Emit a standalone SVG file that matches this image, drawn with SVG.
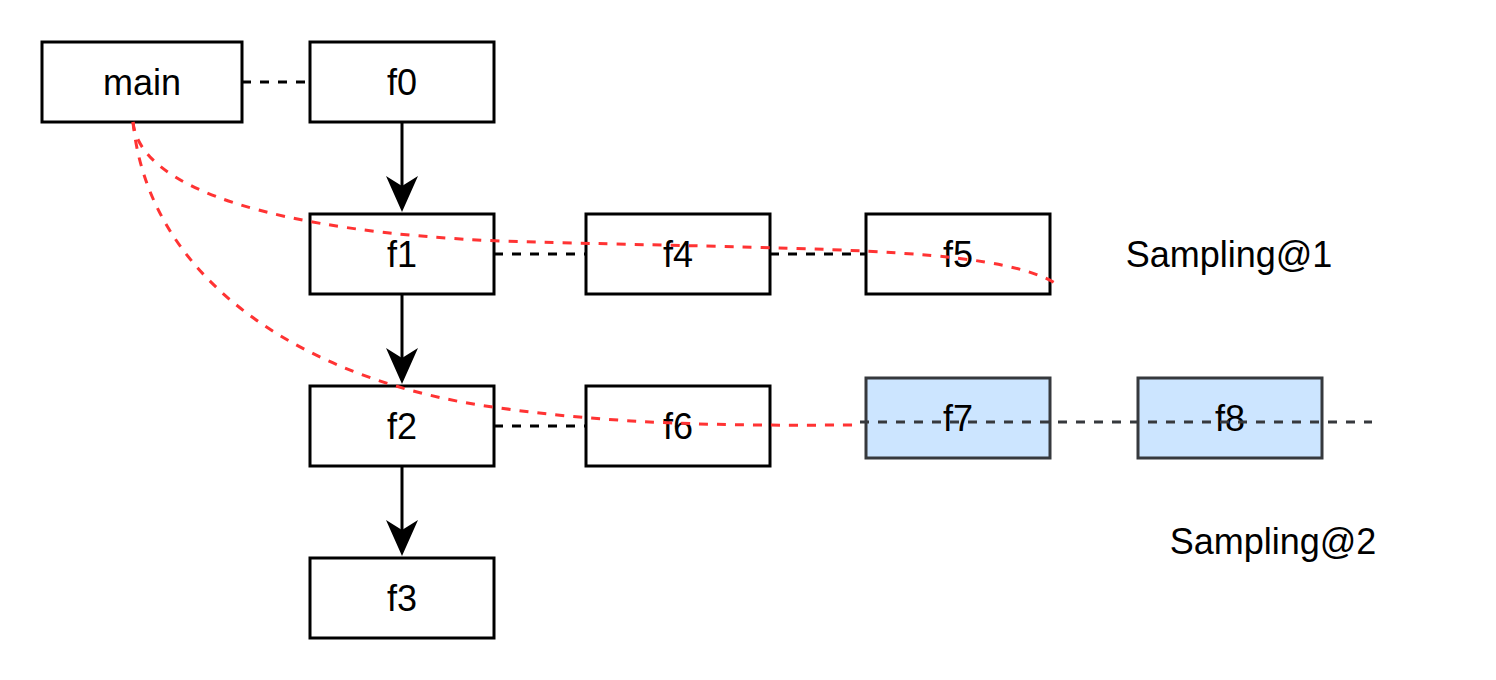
<svg xmlns="http://www.w3.org/2000/svg" width="1496" height="680" viewBox="0 0 1496 680">
<style>
.n{fill:#fff;stroke:#000;stroke-width:3}
.b{fill:#cce5ff;stroke:#36393d;stroke-width:3}
text{font-family:"Liberation Sans",Arial,sans-serif;font-size:36px;text-anchor:middle;dominant-baseline:central;fill:#000}
.d{stroke:#000;stroke-width:3;stroke-dasharray:9 9;fill:none}
.g{stroke:#36393d;stroke-width:3;stroke-dasharray:9 9;fill:none}
.r{stroke:#ff3333;stroke-width:3;stroke-dasharray:9 9;fill:none}
.a{stroke:#000;stroke-width:3;fill:none}
</style>
<defs><marker id="ar" markerWidth="20" markerHeight="20" refX="10" refY="14" orient="auto" markerUnits="userSpaceOnUse" viewBox="0 0 20 20"><path d="M0,14 L10,0 L20,14 L10,20 Z" transform="rotate(90 10 10)" fill="#000"/></marker></defs>
<g id="nodes">
<g id="main"><rect class="n" x="42" y="42" width="200" height="80"/><text x="142" y="82">main</text></g>
<g id="f0"><rect class="n" x="310" y="42" width="184" height="80"/><text x="402" y="82">f0</text></g>
<g id="f1"><rect class="n" x="310" y="214" width="184" height="80"/><text x="402" y="254">f1</text></g>
<g id="f4"><rect class="n" x="586" y="214" width="184" height="80"/><text x="678" y="254">f4</text></g>
<g id="f5"><rect class="n" x="866" y="214" width="184" height="80"/><text x="958" y="254">f5</text></g>
<g id="f2"><rect class="n" x="310" y="386" width="184" height="80"/><text x="402" y="426">f2</text></g>
<g id="f6"><rect class="n" x="586" y="386" width="184" height="80"/><text x="678" y="426">f6</text></g>
<g id="f7"><rect class="b" x="866" y="378" width="184" height="80"/><text x="958" y="418">f7</text></g>
<g id="f8"><rect class="b" x="1138" y="378" width="184" height="80"/><text x="1230" y="418">f8</text></g>
<g id="f3"><rect class="n" x="310" y="558" width="184" height="80"/><text x="402" y="598">f3</text></g>
<text x="1229" y="254">Sampling@1</text>
<text x="1273" y="541">Sampling@2</text>
</g>
<g id="connectors">
<path class="d" d="M242,82 H310"/>
<path class="d" d="M494,254 H586"/>
<path class="d" d="M770,254 H866"/>
<path class="d" d="M494,426 H586"/>
<path class="g" d="M860,422 H1372"/>
<path d="M402,122 V190" class="a"/><path d="M386,176 L402,212 L418,176 L402,186 Z" fill="#000"/>
<path d="M402,294 V362" class="a"/><path d="M386,348 L402,384 L418,348 L402,358 Z" fill="#000"/>
<path d="M402,466 V534" class="a"/><path d="M386,520 L402,556 L418,520 L402,530 Z" fill="#000"/>
<path class="r" d="M133,122 C140,190 280,232 500,241 C800,250 990,245 1055,283"/>
<path class="r" d="M133,122 C150,290 320,385 500,408 C640,428 780,425 860,425"/>
</g>
</svg>
